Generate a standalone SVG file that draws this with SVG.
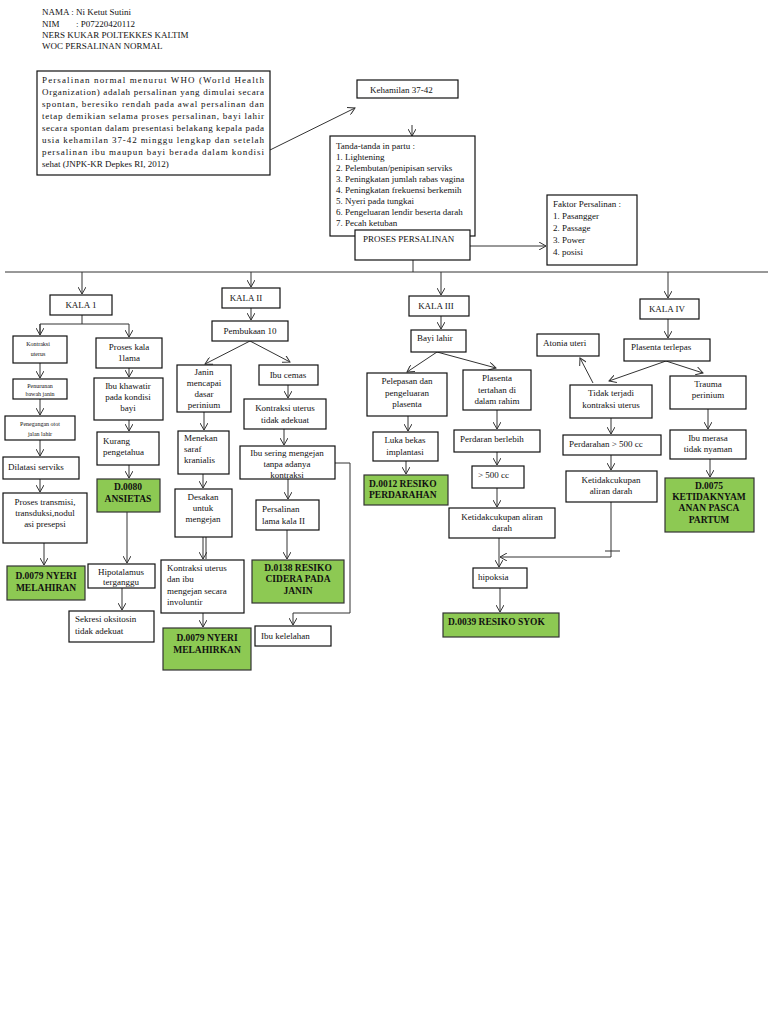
<svg xmlns="http://www.w3.org/2000/svg" width="768" height="1024" viewBox="0 0 768 1024">
<style>
text{font-family:"Liberation Serif","DejaVu Serif",serif;font-size:9px;fill:#111}
.b{fill:#fff;stroke:#111;stroke-width:1.2}
.g{fill:#8dc953;stroke:#333;stroke-width:1.2}
.gt{font-weight:bold;font-size:9.5px}
.c{text-anchor:middle}
#connectors line,#connectors polyline{stroke:#333;stroke-width:1;fill:none}
</style>
<defs><marker id="a" markerWidth="8" markerHeight="8" refX="7" refY="4" orient="auto" markerUnits="userSpaceOnUse"><path d="M0,0L7,4L0,8" fill="none" stroke="#333"/></marker></defs>
<rect width="768" height="1024" fill="#fff"/>
<g id="header"><text x="42" y="15">NAMA : Ni Ketut Sutini</text><text x="42" y="27">NIM</text><text x="76" y="27">: P07220420112</text><text x="42" y="38">NERS KUKAR POLTEKKES KALTIM</text><text x="42" y="49">WOC PERSALINAN NORMAL</text></g>
<g id="connectors">
<line x1="270" y1="150" x2="355" y2="108" marker-end="url(#a)"/>
<line x1="412" y1="125" x2="412" y2="136" marker-end="url(#a)"/>
<line x1="413" y1="218" x2="413" y2="230" marker-end="url(#a)"/>
<line x1="470" y1="246" x2="546" y2="246" marker-end="url(#a)"/>
<line x1="413" y1="260" x2="413" y2="272"/>
<line x1="5" y1="272" x2="768" y2="272"/>
<line x1="82" y1="272" x2="82" y2="294" marker-end="url(#a)"/>
<line x1="251" y1="272" x2="251" y2="287" marker-end="url(#a)"/>
<line x1="441" y1="272" x2="441" y2="295" marker-end="url(#a)"/>
<line x1="668" y1="272" x2="668" y2="298" marker-end="url(#a)"/>
<line x1="82" y1="315" x2="82" y2="324"/><polyline points="40,335 40,324 129,324 129,337" marker-end="url(#a)"/>
<line x1="40" y1="324" x2="40" y2="335" marker-end="url(#a)"/>
<line x1="40" y1="363" x2="40" y2="378" marker-end="url(#a)"/>
<line x1="40" y1="399" x2="40" y2="415" marker-end="url(#a)"/>
<line x1="40" y1="440" x2="40" y2="456" marker-end="url(#a)"/>
<line x1="40" y1="479" x2="40" y2="492" marker-end="url(#a)"/>
<line x1="44" y1="543" x2="44" y2="565" marker-end="url(#a)"/>
<line x1="129" y1="368" x2="129" y2="377" marker-end="url(#a)"/>
<line x1="129" y1="420" x2="129" y2="431" marker-end="url(#a)"/>
<line x1="129" y1="465" x2="129" y2="478" marker-end="url(#a)"/>
<line x1="127" y1="512" x2="127" y2="563" marker-end="url(#a)"/>
<line x1="122" y1="588" x2="122" y2="610" marker-end="url(#a)"/>
<line x1="251" y1="308" x2="251" y2="320" marker-end="url(#a)"/>
<line x1="250" y1="341" x2="205" y2="364" marker-end="url(#a)"/>
<line x1="250" y1="341" x2="290" y2="362" marker-end="url(#a)"/>
<line x1="204" y1="412" x2="204" y2="430" marker-end="url(#a)"/>
<line x1="203" y1="474" x2="203" y2="488" marker-end="url(#a)"/>
<line x1="203" y1="537" x2="203" y2="559" marker-end="url(#a)"/>
<line x1="206" y1="537" x2="206" y2="559"/>
<line x1="203" y1="613" x2="203" y2="627" marker-end="url(#a)"/>
<line x1="288" y1="385" x2="288" y2="398" marker-end="url(#a)"/>
<line x1="284" y1="429" x2="284" y2="445" marker-end="url(#a)"/>
<line x1="288" y1="479" x2="288" y2="499" marker-end="url(#a)"/>
<line x1="287" y1="530" x2="287" y2="559" marker-end="url(#a)"/>
<polyline points="335,463 350,463 350,613 293,613 293,625" marker-end="url(#a)"/>
<line x1="441" y1="316" x2="441" y2="329" marker-end="url(#a)"/>
<line x1="437" y1="352" x2="407" y2="372" marker-end="url(#a)"/>
<line x1="437" y1="352" x2="496" y2="368" marker-end="url(#a)"/>
<line x1="408" y1="416" x2="408" y2="431" marker-end="url(#a)"/>
<line x1="406" y1="461" x2="406" y2="474" marker-end="url(#a)"/>
<line x1="497" y1="410" x2="497" y2="429" marker-end="url(#a)"/>
<line x1="497" y1="452" x2="497" y2="465" marker-end="url(#a)"/>
<line x1="497" y1="488" x2="497" y2="507" marker-end="url(#a)"/>
<line x1="499" y1="538" x2="499" y2="567" marker-end="url(#a)"/>
<polyline points="611,502 611,557 500,557" marker-end="url(#a)"/>
<line x1="605" y1="551" x2="620" y2="551"/>
<line x1="500" y1="588" x2="500" y2="612" marker-end="url(#a)"/>
<line x1="668" y1="319" x2="668" y2="338" marker-end="url(#a)"/>
<line x1="666" y1="361" x2="609" y2="381" marker-end="url(#a)"/>
<line x1="666" y1="361" x2="703" y2="373" marker-end="url(#a)"/>
<line x1="593" y1="383" x2="580" y2="358" marker-end="url(#a)"/>
<line x1="611" y1="418" x2="611" y2="434" marker-end="url(#a)"/>
<line x1="611" y1="455" x2="611" y2="470" marker-end="url(#a)"/>
<line x1="708" y1="409" x2="708" y2="429" marker-end="url(#a)"/>
<line x1="710" y1="459" x2="710" y2="477" marker-end="url(#a)"/>
</g>
<g id="who"><rect class="b" x="37" y="71" width="233" height="104"/>
<text x="42" y="83" textLength="222">Persalinan normal menurut WHO (World Health</text>
<text x="42" y="95" textLength="222">Organization) adalah persalinan yang dimulai secara</text>
<text x="42" y="107" textLength="222">spontan, beresiko rendah pada awal persalinan dan</text>
<text x="42" y="119" textLength="222">tetap demikian selama proses persalinan, bayi lahir</text>
<text x="42" y="131" textLength="222">secara spontan dalam presentasi belakang kepala pada</text>
<text x="42" y="143" textLength="222">usia kehamilan 37-42 minggu lengkap dan setelah</text>
<text x="42" y="155" textLength="222">persalinan ibu maupun bayi berada dalam kondisi</text>
<text x="42" y="167">sehat (JNPK-KR Depkes RI, 2012)</text></g>
<g id="kehamilan"><rect class="b" x="357" y="80" width="101" height="18"/><text x="370" y="93">Kehamilan 37-42</text></g>
<g id="tanda"><rect class="b" x="330" y="136" width="145" height="100"/>
<text x="336" y="149">Tanda-tanda in partu :</text><text x="336" y="160">1. Lightening</text><text x="336" y="171">2. Pelembutan/penipisan serviks</text><text x="336" y="182">3. Peningkatan jumlah rabas vagina</text><text x="336" y="193">4. Peningkatan frekuensi berkemih</text><text x="336" y="204">5. Nyeri pada tungkai</text><text x="336" y="215">6. Pengeluaran lendir beserta darah</text><text x="336" y="226">7. Pecah ketuban</text></g>
<g id="proses"><rect class="b" x="355" y="230" width="115" height="30"/><text x="363" y="242">PROSES PERSALINAN</text></g>
<g id="faktor"><rect class="b" x="547" y="195" width="90" height="70"/><text x="553" y="207">Faktor Persalinan :</text><text x="553" y="219">1. Pasangger</text><text x="553" y="231">2. Passage</text><text x="553" y="243">3. Power</text><text x="553" y="255">4. posisi</text></g>
<g id="kala1"><rect class="b" x="50" y="295" width="62" height="20"/><text class="c" x="81" y="308">KALA 1</text></g>
<g id="kala2"><rect class="b" x="222" y="288" width="58" height="20"/><text class="c" x="246" y="301">KALA II</text></g>
<g id="kala3"><rect class="b" x="409" y="296" width="60" height="20"/><text class="c" x="436" y="309">KALA III</text></g>
<g id="kala4"><rect class="b" x="640" y="299" width="59" height="20"/><text class="c" x="667" y="312">KALA IV</text></g>
<g id="n1"><rect class="b" x="13" y="336" width="54" height="27"/><text class="c" x="38" y="346" style="font-size:6px">Kontraksi</text><text class="c" x="38" y="356" style="font-size:6px">uterus</text></g>
<g id="n2"><rect class="b" x="13" y="379" width="54" height="20"/><text class="c" x="40" y="388" style="font-size:6px">Penurunan</text><text class="c" x="40" y="396" style="font-size:6px">bawah janin</text></g>
<g id="n3"><rect class="b" x="5" y="416" width="70" height="24"/><text class="c" x="40" y="426" style="font-size:6px">Penegangan otot</text><text class="c" x="40" y="436" style="font-size:6px">jalan lahir</text></g>
<g id="n4"><rect class="b" x="3" y="457" width="76" height="22"/><text x="8" y="470">Dilatasi serviks</text></g>
<g id="n5"><rect class="b" x="3" y="493" width="84" height="50"/><text class="c" x="45" y="505">Proses transmisi,</text><text class="c" x="45" y="516">transduksi,nodul</text><text class="c" x="45" y="527">asi presepsi</text></g>
<g id="d1"><rect class="g" x="7" y="566" width="78" height="34"/><text class="c gt" x="46" y="579">D.0079 NYERI</text><text class="c gt" x="46" y="591">MELAHIRAN</text></g>
<g id="n6"><rect class="b" x="96" y="338" width="66" height="30"/><text class="c" x="129" y="350">Proses kala</text><text class="c" x="129" y="361">1lama</text></g>
<g id="n7"><rect class="b" x="94" y="378" width="69" height="42"/><text class="c" x="128" y="389">Ibu khawatir</text><text class="c" x="128" y="400">pada kondisi</text><text class="c" x="128" y="411">bayi</text></g>
<g id="n8"><rect class="b" x="97" y="432" width="62" height="33"/><text x="103" y="444">Kurang</text><text x="103" y="455">pengetahua</text></g>
<g id="d2"><rect class="g" x="97" y="479" width="63" height="33"/><text class="c gt" x="128" y="490">D.0080</text><text class="c gt" x="128" y="502">ANSIETAS</text></g>
<g id="n9"><rect class="b" x="88" y="564" width="67" height="24"/><text class="c" x="121" y="575">Hipotalamus</text><text class="c" x="121" y="585">terganggu</text></g>
<g id="n10"><rect class="b" x="69" y="611" width="85" height="31"/><text x="75" y="622">Sekresi oksitosin</text><text x="75" y="634">tidak adekuat</text></g>
<g id="n11"><rect class="b" x="212" y="321" width="76" height="20"/><text class="c" x="250" y="334">Pembukaan 10</text></g>
<g id="n12"><rect class="b" x="177" y="365" width="54" height="47"/><text class="c" x="204" y="375">Janin</text><text class="c" x="204" y="386">mencapai</text><text class="c" x="204" y="397">dasar</text><text class="c" x="204" y="408">perinium</text></g>
<g id="n13"><rect class="b" x="178" y="431" width="51" height="43"/><text x="184" y="441">Menekan</text><text x="184" y="452">saraf</text><text x="184" y="463">kranialis</text></g>
<g id="n14"><rect class="b" x="175" y="489" width="57" height="48"/><text class="c" x="203" y="500">Desakan</text><text class="c" x="203" y="511">untuk</text><text class="c" x="203" y="522">mengejan</text></g>
<g id="n15"><rect class="b" x="161" y="560" width="83" height="53"/><text x="167" y="571">Kontraksi uterus</text><text x="167" y="582">dan ibu</text><text x="167" y="594">mengejan secara</text><text x="167" y="605">involuntir</text></g>
<g id="d3"><rect class="g" x="163" y="628" width="88" height="42"/><text class="c gt" x="207" y="641">D.0079 NYERI</text><text class="c gt" x="207" y="653">MELAHIRKAN</text></g>
<g id="n16"><rect class="b" x="259" y="365" width="59" height="20"/><text class="c" x="288" y="378">Ibu cemas</text></g>
<g id="n17"><rect class="b" x="244" y="399" width="82" height="30"/><text class="c" x="285" y="411">Kontraksi uterus</text><text class="c" x="285" y="423">tidak adekuat</text></g>
<g id="n18"><rect class="b" x="240" y="446" width="95" height="33"/><text class="c" x="287" y="456">Ibu sering mengejan</text><text class="c" x="287" y="467">tanpa adanya</text><text class="c" x="287" y="478">kontraksi</text></g>
<g id="n19"><rect class="b" x="256" y="500" width="63" height="30"/><text x="262" y="512">Persalinan</text><text x="262" y="524">lama kala II</text></g>
<g id="d4"><rect class="g" x="252" y="560" width="92" height="43"/><text class="c gt" x="298" y="571">D.0138  RESIKO</text><text class="c gt" x="298" y="582">CIDERA PADA</text><text class="c gt" x="298" y="594">JANIN</text></g>
<g id="n20"><rect class="b" x="255" y="626" width="76" height="20"/><text x="261" y="639">Ibu kelelahan</text></g>
<g id="n21"><rect class="b" x="411" y="330" width="55" height="22"/><text x="417" y="341">Bayi lahir</text></g>
<g id="n22"><rect class="b" x="367" y="373" width="80" height="43"/><text class="c" x="407" y="384">Pelepasan dan</text><text class="c" x="407" y="396">pengeluaran</text><text class="c" x="407" y="407">plasenta</text></g>
<g id="n23"><rect class="b" x="463" y="370" width="68" height="40"/><text class="c" x="497" y="381">Plasenta</text><text class="c" x="497" y="393">tertahan di</text><text class="c" x="497" y="404">dalam rahim</text></g>
<g id="n24"><rect class="b" x="373" y="432" width="65" height="29"/><text class="c" x="405" y="443">Luka bekas</text><text class="c" x="405" y="455">implantasi</text></g>
<g id="d5"><rect class="g" x="364" y="475" width="84" height="30"/><text class="gt" x="369" y="487">D.0012 RESIKO</text><text class="gt" x="369" y="498">PERDARAHAN</text></g>
<g id="n25"><rect class="b" x="454" y="430" width="86" height="22"/><text x="460" y="442">Perdaran berlebih</text></g>
<g id="n26"><rect class="b" x="472" y="466" width="52" height="22"/><text x="478" y="478">&gt; 500 cc</text></g>
<g id="n27"><rect class="b" x="449" y="508" width="106" height="30"/><text class="c" x="502" y="520">Ketidakcukupan aliran</text><text class="c" x="502" y="531">darah</text></g>
<g id="n28"><rect class="b" x="473" y="568" width="54" height="20"/><text x="478" y="580">hipoksia</text></g>
<g id="d6"><rect class="g" x="443" y="613" width="116" height="24"/><text class="gt" x="448" y="625">D.0039 RESIKO SYOK</text></g>
<g id="n29"><rect class="b" x="537" y="334" width="62" height="22"/><text x="543" y="346">Atonia uteri</text></g>
<g id="n30"><rect class="b" x="624" y="339" width="86" height="22"/><text x="631" y="350">Plasenta terlepas</text></g>
<g id="n31"><rect class="b" x="570" y="385" width="82" height="33"/><text class="c" x="611" y="396">Tidak terjadi</text><text class="c" x="611" y="408">kontraksi uterus</text></g>
<g id="n32"><rect class="b" x="670" y="376" width="76" height="33"/><text class="c" x="708" y="387">Trauma</text><text class="c" x="708" y="398">perinium</text></g>
<g id="n33"><rect class="b" x="563" y="435" width="98" height="20"/><text x="569" y="447">Perdarahan &gt; 500 cc</text></g>
<g id="n34"><rect class="b" x="566" y="471" width="91" height="31"/><text class="c" x="611" y="483">Ketidakcukupan</text><text class="c" x="611" y="494">aliran darah</text></g>
<g id="n35"><rect class="b" x="670" y="430" width="76" height="29"/><text class="c" x="708" y="441">Ibu merasa</text><text class="c" x="708" y="452">tidak nyaman</text></g>
<g id="d7"><rect class="g" x="665" y="478" width="89" height="54"/><text class="c gt" x="709" y="489">D.0075</text><text class="c gt" x="709" y="500">KETIDAKNYAM</text><text class="c gt" x="709" y="511">ANAN PASCA</text><text class="c gt" x="709" y="523">PARTUM</text></g>
</svg>
